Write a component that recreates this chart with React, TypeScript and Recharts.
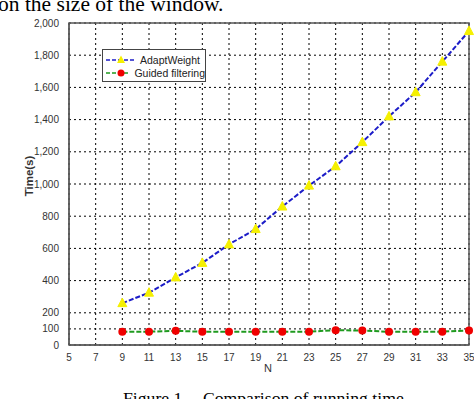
import {
  LineChart,
  Line,
  XAxis,
  YAxis,
  CartesianGrid,
  ReferenceArea,
} from "recharts";

const nValues = [9, 11, 13, 15, 17, 19, 21, 23, 25, 27, 29, 31, 33, 35];
const adaptWeight = [260, 325, 420, 510, 625, 720, 860, 990, 1110, 1260, 1420, 1570, 1760, 1950];
const guidedFiltering = [82, 83, 88, 82, 83, 83, 83, 83, 92, 90, 82, 82, 83, 90];
const xTicks = [5, 7, 9, 11, 13, 15, 17, 19, 21, 23, 25, 27, 29, 31, 33, 35];
const yTicks = [0, 100, 200, 400, 600, 800, 1000, 1200, 1400, 1600, 1800, 2000];

const data = nValues.map((n, i) => ({
  n,
  adapt: adaptWeight[i],
  guided: guidedFiltering[i],
}));

const BLUE = "#1c1cc8";
const GREEN = "#1f9a1f";
const tickStyle = { fontFamily: "Liberation Sans, Arial", fontSize: 10, fill: "#333" };
const serif = "Liberation Serif, Times New Roman";

function Triangle(props: any) {
  const { cx, cy } = props;
  if (cx == null || cy == null) return null;
  return (
    <polygon
      points={`${cx},${cy - 5} ${cx + 4.5},${cy + 3.5} ${cx - 4.5},${cy + 3.5}`}
      fill="#f5f000"
      stroke="#f5f000"
    />
  );
}

function RedDot(props: any) {
  const { cx, cy } = props;
  if (cx == null || cy == null) return null;
  return <circle cx={cx} cy={cy} r={4} fill="#f00000" />;
}

function LegendBox() {
  return (
    <div
      style={{
        position: "absolute",
        left: 102,
        top: 49,
        width: 104,
        height: 33,
        border: "1px solid #444",
        background: "#fff",
        fontFamily: "Liberation Sans, Arial",
        fontSize: 10.5,
        color: "#222",
        boxSizing: "border-box",
        padding: "3px 0 0 3px",
        whiteSpace: "nowrap",
      }}
    >
      <div style={{ display: "flex", alignItems: "center", height: 13 }}>
        <svg width={30} height={12}>
          <line x1={0} y1={6} x2={30} y2={6} stroke={BLUE} strokeWidth={1.5} strokeDasharray="4 2" />
          <polygon points="15,1.5 19,9 11,9" fill="#f5f000" />
        </svg>
        <span style={{ marginLeft: 4 }}>AdaptWeight</span>
      </div>
      <div style={{ display: "flex", alignItems: "center", height: 13 }}>
        <svg width={30} height={12}>
          <line x1={0} y1={6} x2={30} y2={6} stroke={GREEN} strokeWidth={1.5} strokeDasharray="4 2" />
          <circle cx={15} cy={6} r={3.5} fill="#f00000" />
        </svg>
        <span style={{ marginLeft: 4 }}>Guided filtering</span>
      </div>
    </div>
  );
}

export default function App() {
  return (
    <div style={{ position: "absolute", left: 0, top: 0, width: 474, height: 399, overflow: "hidden", background: "#fff" }}>
      <div
        style={{
          position: "absolute",
          left: -2,
          top: -6.5,
          fontFamily: serif,
          fontSize: 21.5,
          lineHeight: 1,
          whiteSpace: "nowrap",
        }}
      >
        on the size of the window.
      </div>
      <LineChart
        width={474}
        height={399}
        data={data}
        margin={{ top: 23, right: 5, bottom: 0, left: 0 }}
      >
        <CartesianGrid stroke="#000" strokeDasharray="2 3" strokeWidth={1} />
        <XAxis
          dataKey="n"
          type="number"
          domain={[5, 35]}
          ticks={xTicks}
          height={54}
          interval={0}
          tick={tickStyle}
          tickLine={false}
          axisLine={{ stroke: "#555" }}
          tickMargin={3}
        />
        <YAxis
          type="number"
          domain={[0, 2000]}
          ticks={yTicks}
          width={69}
          interval={0}
          tick={tickStyle}
          tickLine={false}
          axisLine={{ stroke: "#555" }}
          tickMargin={4}
          tickFormatter={(v: number) => v.toLocaleString("en-US")}
        />
        <ReferenceArea x1={5} x2={35} y1={0} y2={2000} fill="none" stroke="#555" strokeWidth={1.5} ifOverflow="visible" />
        <Line
          dataKey="adapt"
          name="AdaptWeight"
          stroke={BLUE}
          strokeWidth={2}
          strokeDasharray="5 2"
          dot={<Triangle />}
          activeDot={false}
          isAnimationActive={false}
        />
        <Line
          dataKey="guided"
          name="Guided filtering"
          stroke={GREEN}
          strokeWidth={2}
          strokeDasharray="5 2"
          dot={<RedDot />}
          activeDot={false}
          isAnimationActive={false}
        />
      </LineChart>
      <LegendBox />
      <div
        style={{
          position: "absolute",
          left: 30,
          top: 176,
          transform: "translate(-50%, -50%) rotate(-90deg)",
          fontFamily: "Liberation Sans, Arial",
          fontSize: 11.5,
          fontWeight: "bold",
          color: "#333",
          lineHeight: 1,
          whiteSpace: "nowrap",
        }}
      >
        Time(s)
      </div>
      <div
        style={{
          position: "absolute",
          left: 264,
          top: 363,
          fontFamily: "Liberation Sans, Arial",
          fontSize: 11,
          color: "#333",
          lineHeight: 1,
        }}
      >
        N
      </div>
      <div
        style={{
          position: "absolute",
          left: 123,
          top: 389.5,
          fontFamily: serif,
          fontSize: 17.7,
          lineHeight: 1,
          whiteSpace: "nowrap",
        }}
      >
        Figure 1.<span style={{ marginLeft: 16 }}>Comparison of running time</span>
      </div>
    </div>
  );
}
